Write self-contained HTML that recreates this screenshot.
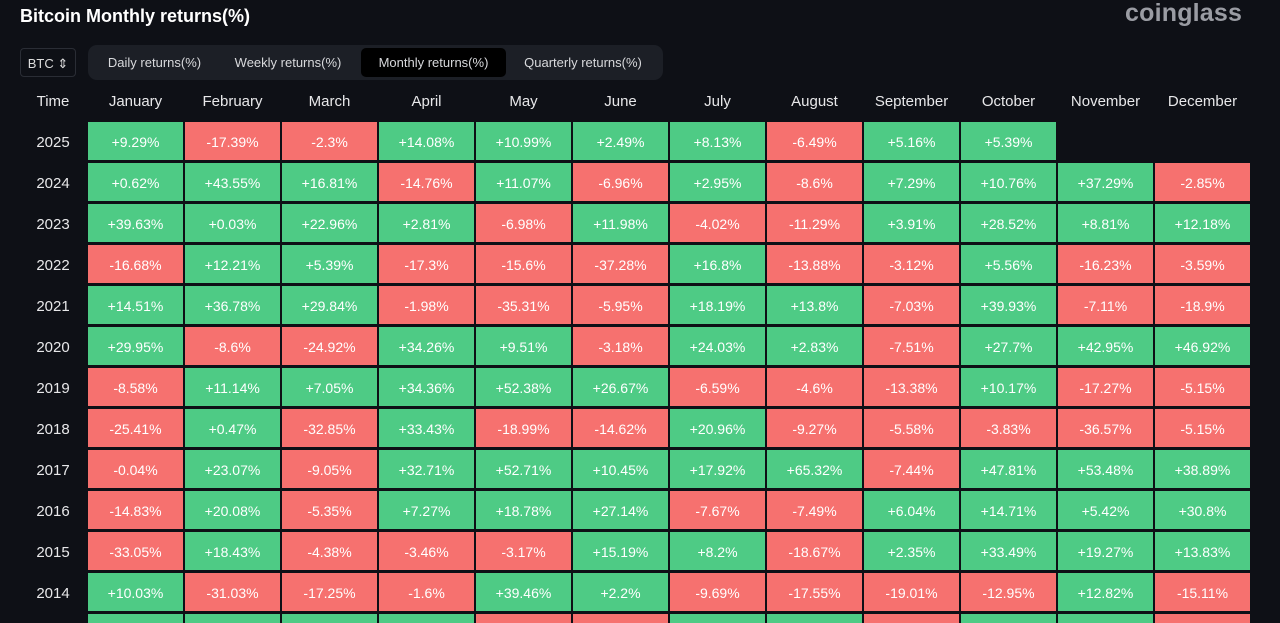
<!DOCTYPE html>
<html><head><meta charset="utf-8"><style>
html,body{margin:0;width:1280px;height:623px;overflow:hidden}
body{background:#0e1016;font-family:"Liberation Sans",sans-serif;color:#fff;position:relative}
.abs{position:absolute}
#title{left:20px;top:4px;font-size:18px;font-weight:bold;line-height:24px}
#logo{left:1125px;top:-1px;font-size:25px;font-weight:bold;color:#9a9ca3;letter-spacing:0.2px}
#btc{left:20px;top:48px;width:56px;height:29px;border:1px solid #2a2d35;border-radius:4px;font-size:13px;line-height:29px;text-align:center;color:#ddd;box-sizing:border-box}
#tabs{left:88px;top:45px;width:575px;height:35px;background:#1c1f26;border-radius:9px}
.tab{position:absolute;top:3px;height:29px;line-height:29px;font-size:13px;color:#d8d9dc;text-align:center;border-radius:5px}
.tab.active{background:#000}
.hdr{position:absolute;top:93px;height:20px;font-size:15px;color:#e8e8ea;text-align:center}
.cell{position:absolute;height:38px;line-height:40px;font-size:14px;text-align:center;color:#fff}
.yr{position:absolute;width:66px;left:20px;height:38px;line-height:41px;font-size:15px;text-align:center;color:#e8e8ea}
</style></head><body>
<div id="title" class="abs">Bitcoin Monthly returns(%)</div>
<div id="logo" class="abs">coinglass</div>
<div id="btc" class="abs">BTC ⇕</div>
<div id="tabs" class="abs">
<div class="tab" style="left:4px;width:125px">Daily returns(%)</div>
<div class="tab" style="left:130px;width:140px">Weekly returns(%)</div>
<div class="tab active" style="left:273px;width:145px">Monthly returns(%)</div>
<div class="tab" style="left:420px;width:150px">Quarterly returns(%)</div>
</div>
<div id="grid"></div>
<script>
const months=["January","February","March","April","May","June","July","August","September","October","November","December"];
const years=["2025","2024","2023","2022","2021","2020","2019","2018","2017","2016","2015","2014","2013"];
const r2025=[9.29,-17.39,-2.3,14.08,10.99,2.49,8.13,-6.49,5.16,5.39,null,null];
const r2024=[0.62,43.55,16.81,-14.76,11.07,-6.96,2.95,-8.6,7.29,10.76,37.29,-2.85];
const r2023=[39.63,0.03,22.96,2.81,-6.98,11.98,-4.02,-11.29,3.91,28.52,8.81,12.18];
const r2022=[-16.68,12.21,5.39,-17.3,-15.6,-37.28,16.8,-13.88,-3.12,5.56,-16.23,-3.59];
const r2021=[14.51,36.78,29.84,-1.98,-35.31,-5.95,18.19,13.8,-7.03,39.93,-7.11,-18.9];
const r2020=[29.95,-8.6,-24.92,34.26,9.51,-3.18,24.03,2.83,-7.51,27.7,42.95,46.92];
const r2019=[-8.58,11.14,7.05,34.36,52.38,26.67,-6.59,-4.6,-13.38,10.17,-17.27,-5.15];
const r2018=[-25.41,0.47,-32.85,33.43,-18.99,-14.62,20.96,-9.27,-5.58,-3.83,-36.57,-5.15];
const r2017=[-0.04,23.07,-9.05,32.71,52.71,10.45,17.92,65.32,-7.44,47.81,53.48,38.89];
const r2016=[-14.83,20.08,-5.35,7.27,18.78,27.14,-7.67,-7.49,6.04,14.71,5.42,30.8];
const r2015=[-33.05,18.43,-4.38,-3.46,-3.17,15.19,8.2,-18.67,2.35,33.49,19.27,13.83];
const r2014=[10.03,-31.03,-17.25,-1.6,39.46,2.2,-9.69,-17.55,-19.01,-12.95,12.82,-15.11];
const r2013=[44.05,61.77,172.76,50.01,-7.98,-29.89,9.6,30.42,-1.76,60.79,449.35,-34.81];
const rows=[r2025,r2024,r2023,r2022,r2021,r2020,r2019,r2018,r2017,r2016,r2015,r2014,r2013];
const g=document.getElementById('grid');
const X0=88,CW=97,Y0=122,RH=41;
const hx=document.createElement('div');hx.className='hdr';hx.style.left='20px';hx.style.width='66px';hx.textContent='Time';


g.appendChild(hx);
months.forEach((m,i)=>{const h=document.createElement('div');h.className='hdr';h.style.left=(X0+i*CW)+'px';h.style.width=(CW-2)+'px';h.textContent=m;


g.appendChild(h);});
years.forEach((y,r)=>{
 const top=Y0+r*RH;
 const yl=document.createElement('div');yl.className='yr';yl.style.top=top+'px';yl.textContent=y;
 
 
 g.appendChild(yl);
 rows[r].forEach((v,c)=>{
  if(v===null)return;
  const d=document.createElement('div');d.className='cell';
  d.style.left=(X0+c*CW)+'px';d.style.top=top+'px';d.style.width=(CW-2)+'px';
  d.style.background=v>=0?'#4ecb85':'#f6716f';
  d.textContent=(v>=0?'+':'')+v+'%';
  
  
  g.appendChild(d);
 });
});
</script>
</body></html>
